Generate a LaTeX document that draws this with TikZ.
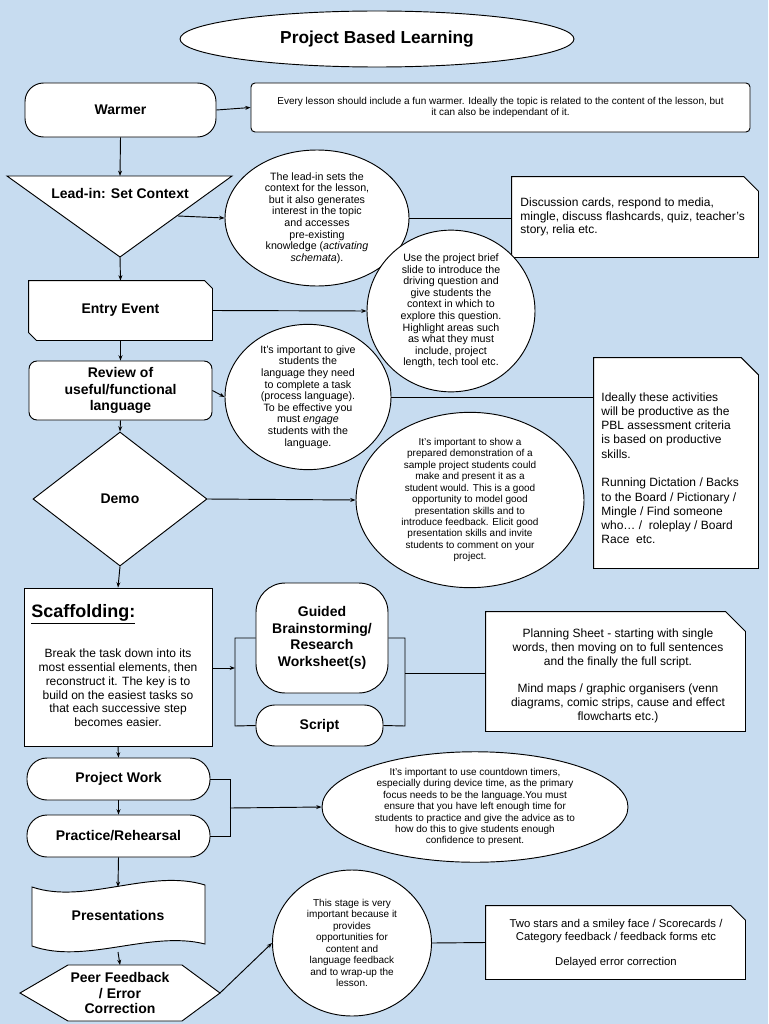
\documentclass[tikz,border=0pt]{standalone}
\usepackage{fontspec}
\setmainfont{Liberation Sans}
\usetikzlibrary{shapes.geometric,arrows.meta}
\definecolor{bgblue}{HTML}{C7DCF0}
\def\P#1{#1*0.75pt}
\begin{document}
\begin{tikzpicture}[x=0.75pt,y=-0.75pt,
  line width=0.7pt,
  shp/.style={draw=black,fill=white,inner sep=0pt,align=center},
  bold/.style={font=\bfseries\fontsize{10.5}{12.5}\selectfont},
  ell/.style={shp,ellipse},
  small/.style={font=\fontsize{8}{8.7}\selectfont},
  tiny/.style={font=\fontsize{7.5}{8.6}\selectfont},
  doc/.style={font=\fontsize{9}{10}\selectfont},
  arr/.style={-{Stealth[length=4pt,width=3pt]}},
  ln/.style={-}]
\fill[bgblue] (0,0) rectangle (768,1024);
\useasboundingbox (0,0) rectangle (768,1024);

% title
\node[ell,minimum width={\P{394}},minimum height={\P{56}},font=\bfseries\fontsize{13}{15}\selectfont] (title) at (377,39) {Project Based Learning};

% warmer
\node[shp,rounded corners=14pt,minimum width={\P{191}},minimum height={\P{54}},bold] (warmer) at (120.5,110) {Warmer};
\node[shp,rounded corners=3pt,minimum width={\P{499}},minimum height={\P{49}},tiny] (wnote) at (500.5,107.5) {Every lesson should include a fun warmer. Ideally the topic is related to the content of the lesson, but\\ it can also be independant of it.};
\draw[arr] (warmer.east) -- (wnote.west);

% lead-in triangle
\coordinate (ltl) at (7,176); \coordinate (ltr) at (232,176); \coordinate (lap) at (120,257);
\coordinate (ltop) at (120,176); \coordinate (lside) at (178,216);
\draw[fill=white] (ltl) -- (ltr) -- (lap) -- cycle;
\node[bold] (leadin) at (120,193) {Lead-in: Set Context};
\draw[arr] (warmer.south) -- (ltop);

\node[ell,minimum width={\P{184}},minimum height={\P{136}},small] (e1) at (317,218) {The lead-in sets the\\ context for the lesson,\\ but it also generates\\ interest in the topic\\ and accesses\\ pre-existing\\ knowledge (\textit{activating}\\ \textit{schemata}).};
\draw[arr] (lside) -- (e1.west);

\node[minimum width={\P{246}},minimum height={\P{80}},inner sep=0pt] (doc1) at (635,217) {};
\draw[fill=white] (doc1.north west) -- ([xshift=-11pt]doc1.north east) -- ([yshift=-11pt]doc1.north east) -- (doc1.south east) -- (doc1.south west) -- cycle;
\node[doc,anchor=west,align=left,inner sep=0pt] (doc1t) at (520,217) {Discussion cards, respond to media,\\ mingle, discuss flashcards, quiz, teacher's\\ story, relia etc.};
\draw[ln] (e1.east) -- (e1.east -| doc1.west);

% entry event
\node[minimum width={\P{183}},minimum height={\P{59}},inner sep=0pt,bold] (entry) at (120.5,310.5) {};
\draw[fill=white] (entry.north west) -- ([xshift=-6pt]entry.north east) -- ([yshift=-6pt]entry.north east) -- (entry.south east) -- ([xshift=6pt]entry.south west) -- ([yshift=6pt]entry.south west) -- cycle;
\node[bold] at (entry) {Entry Event};
\draw[arr] (lap) -- (entry.north);

\node[ell,minimum width={\P{168}},minimum height={\P{134}},small] (e2) at (451,311) {Use the project brief\\ slide to introduce the\\ driving question and\\ give students the\\ context in which to\\ explore this question.\\ Highlight areas such\\ as what they must\\ include, project\\ length, tech tool etc.};
\draw[arr] (entry.east) -- (e2.west);

% review
\node[shp,rounded corners=6pt,minimum width={\P{183}},minimum height={\P{59}},bold] (review) at (120.5,390.5) {Review of\\ useful/functional\\ language};
\draw[arr] (entry.south) -- (review.north);

\node[ell,minimum width={\P{166}},minimum height={\P{118}},small] (e3) at (308,397) {It's important to give\\ students the\\ language they need\\ to complete a task\\ (process language).\\ To be effective you\\ must \textit{engage}\\ students with the\\ language.};
\draw[arr] (review.east) -- (e3.west);

\node[minimum width={\P{164}},minimum height={\P{210}},inner sep=0pt] (doc2) at (676,463) {};
\draw[fill=white] (doc2.north west) -- ([xshift=-13pt]doc2.north east) -- ([yshift=-13pt]doc2.north east) -- (doc2.south east) -- (doc2.south west) -- cycle;
\node[anchor=north west,align=left,inner sep=0pt,font=\fontsize{9}{10.7}\selectfont] (doc2t) at (601,392) {Ideally these activities\\ will be productive as the\\ PBL assessment criteria\\ is based on productive\\ skills.\\[10.7pt] Running Dictation / Backs\\ to the Board / Pictionary /\\ Mingle / Find someone\\ who\dots{} /\ \ roleplay / Board\\ Race\ \ etc.};
\draw[ln] (e3.east) -- (e3.east -| doc2.west);

% demo
\node[shp,diamond,minimum width={\P{174}},minimum height={\P{134}},bold] (demo) at (120,499) {Demo};
\draw[arr] (review.south) -- (demo.north);
\node[ell,minimum width={\P{228}},minimum height={\P{166}},tiny] (e4) at (470,500) {It's important to show a\\ prepared demonstration of a\\ sample project students could\\ make and present it as a\\ student would. This is a good\\ opportunity to model good\\ presentation skills and to\\ introduce feedback. Elicit good\\ presentation skills and invite\\ students to comment on your\\ project.};
\draw[arr] (demo.east) -- (e4.west);

% scaffolding
\node[shp,minimum width={\P{188}},minimum height={\P{158}}] (scaf) at (118,667) {};
\draw[arr] (demo.south) -- (scaf.north);
\node[anchor=west,inner sep=0pt,font=\bfseries\fontsize{13.5}{15}\selectfont] (scaft) at (31,614) {\underline{Scaffolding:}};
\node[align=center,inner sep=0pt,font=\fontsize{9}{10.3}\selectfont] (scafb) at (118,688) {Break the task down into its\\ most essential elements, then\\ reconstruct it. The key is to\\ build on the easiest tasks so\\ that each successive step\\ becomes easier.};

\node[shp,rounded corners=22pt,minimum width={\P{132}},minimum height={\P{110}},bold] (guided) at (322,638) {Guided\\ Brainstorming/\\ Research\\ Worksheet(s)};
\node[shp,rounded corners=14pt,minimum width={\P{127}},minimum height={\P{41}},bold] (script) at (319.5,725.5) {Script};
\coordinate (bl) at (235,668);
\draw[arr] (scaf.east |- bl) -- (bl);
\draw[ln] (guided.west) -| (235,726) -- (script.west);
\coordinate (br) at (405,673);
\draw[ln] (guided.east) -| (405,726) -- (script.east);

\node[minimum width={\P{259}},minimum height={\P{119}},inner sep=0pt] (plan) at (615.5,671.5) {};
\draw[fill=white] (plan.north west) -- ([xshift=-15pt]plan.north east) -- ([yshift=-15pt]plan.north east) -- (plan.south east) -- (plan.south west) -- cycle;
\node[align=center,inner sep=0pt,font=\fontsize{9}{10.3}\selectfont] (plant) at (618,676) {Planning Sheet - starting with single\\ words, then moving on to full sentences\\ and the finally the full script.\\[10.3pt] Mind maps / graphic organisers (venn\\ diagrams, comic strips, cause and effect\\ flowcharts etc.)};
\draw[ln] (br) -- (plan.west |- br);

% project work / practice
\node[shp,rounded corners=15pt,minimum width={\P{183}},minimum height={\P{42}},bold] (pw) at (118.5,779) {Project Work};
\node[shp,rounded corners=15pt,minimum width={\P{183}},minimum height={\P{42}},bold] (prac) at (118.5,836) {Practice/Rehearsal};
\draw[arr] (scaf.south) -- (pw.north);
\draw[arr] (pw.south) -- (prac.north);
\draw[ln] (pw.east) -| (230,836) -- (prac.east);
\node[ell,minimum width={\P{306}},minimum height={\P{104}},tiny] (e5) at (475,807) {It's important to use countdown timers,\\ especially during device time, as the primary\\ focus needs to be the language.You must\\ ensure that you have left enough time for\\ students to practice and give the advice as to\\ how do this to give students enough\\ confidence to present.};
\coordinate (pb) at (230,808);
\draw[arr] (pb) -- (e5.west);

% presentations
\coordinate (ptop) at (118,887);
\draw[fill=white] (32,887) .. controls (85,905) and (150,868) .. (205,885) -- (205,944) .. controls (150,930) and (85,965) .. (32,946) -- cycle;
\node[bold] (pres) at (118,915) {Presentations};
\coordinate (pbot) at (118,952);
\draw[arr] (prac.south) -- (ptop);

% hexagon
\coordinate (htop) at (120,965);
\draw[fill=white] (20,993) -- (68,965) -- (182,965) -- (220,993) -- (182,1021) -- (68,1021) -- cycle;
\node[align=center,inner sep=0pt,font=\bfseries\fontsize{10.5}{11.8}\selectfont] (hex) at (120,993) {Peer Feedback\\ / Error\\ Correction};
\coordinate (hright) at (220,993);
\draw[arr] (pbot) -- (htop);

\node[ell,minimum width={\P{159}},minimum height={\P{146}},tiny] (e6) at (352,943) {This stage is very\\ important because it\\ provides\\ opportunities for\\ content and\\ language feedback\\ and to wrap-up the\\ lesson.};
\draw[arr] (hright) -- (e6.west);

\node[minimum width={\P{259}},minimum height={\P{73}},inner sep=0pt] (fb) at (615.5,942.5) {};
\draw[fill=white] (fb.north west) -- ([xshift=-11pt]fb.north east) -- ([yshift=-11pt]fb.north east) -- (fb.south east) -- (fb.south west) -- cycle;
\node[align=center,inner sep=0pt,font=\fontsize{8.5}{9.5}\selectfont] (fbt) at (616,944) {Two stars and a smiley face / Scorecards /\\ Category feedback / feedback forms etc\\[9.5pt] Delayed error correction};
\draw[ln] (e6.east) -- (fb.west);
\end{tikzpicture}
\end{document}
